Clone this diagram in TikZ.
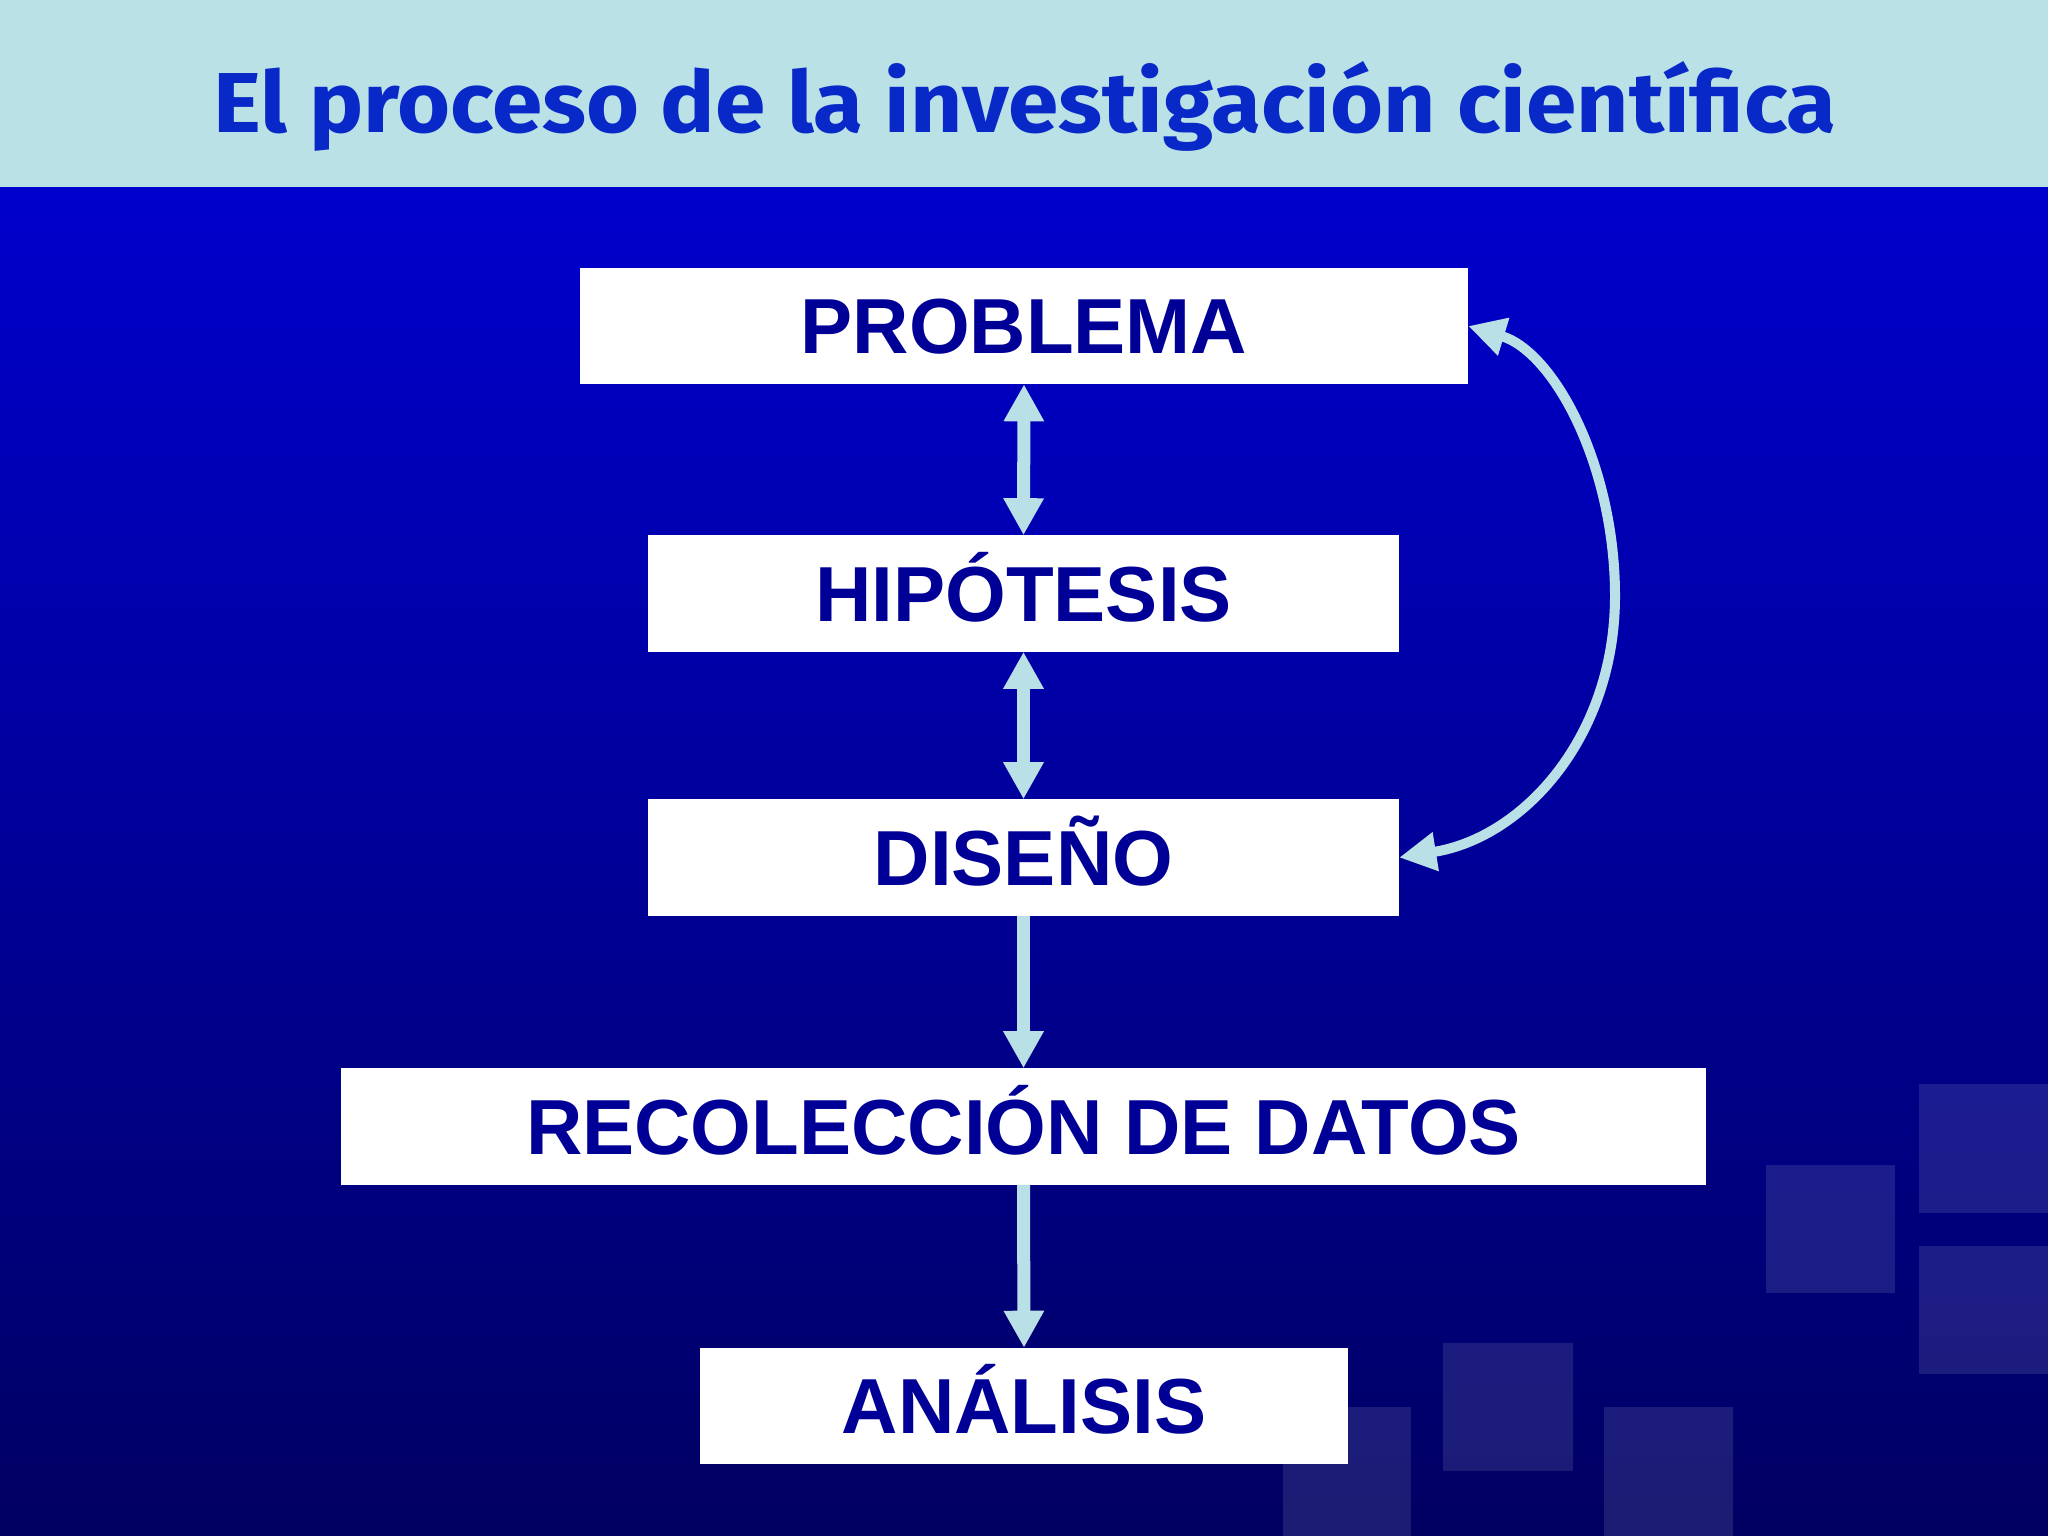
\documentclass[tikz,border=0pt]{standalone}
\usepackage{fontspec}
\setmainfont{Liberation Sans}
\newfontfamily\titlefont{Fira Sans}
\usetikzlibrary{arrows.meta}
\definecolor{band}{RGB}{185,225,230}
\definecolor{arrowc}{RGB}{185,224,230}
\definecolor{titleblue}{RGB}{8,40,200}
\definecolor{boxtext}{RGB}{0,0,150}
\definecolor{bgtop}{RGB}{0,0,205}
\definecolor{bgbot}{RGB}{0,0,98}
\tikzset{
  stepbox/.style={fill=white, draw=none, inner sep=0pt, outer sep=0pt,
    text=boxtext, font=\fontsize{22.2pt}{26pt}\selectfont\bfseries,
    text height=15.9pt, text depth=0pt, minimum height=1.165cm},
  blockarrow/.style={draw=arrowc, line width=0.13cm,
    >={Triangle[length=0.37cm,width=0.38cm]}},
  curvearrow/.style={draw=arrowc, line width=0.10cm,
    >={Triangle[length=0.37cm,width=0.37cm]}},
  deco/.style={fill=white, fill opacity=0.11}
}
\begin{document}
\begin{tikzpicture}[x=0.01cm, y=-0.01cm]
\useasboundingbox (0,0) rectangle (2048,1536);
% background
\fill[band] (0,0) rectangle (2048,187);
\shade[top color=bgtop, bottom color=bgbot] (0,187) rectangle (2048,1536);
% decorative squares
\fill[deco] (1919,1084) rectangle (2048,1213);
\fill[deco] (1919,1246) rectangle (2048,1374);
\fill[deco] (1766,1165) rectangle (1895,1293);
\fill[deco] (1443,1343) rectangle (1573,1471);
\fill[deco] (1604,1407) rectangle (1733,1536);
\fill[deco] (1283,1407) rectangle (1411,1536);
% title
\node[anchor=base west, inner sep=0pt, text=titleblue] (title) at (213,132)
  {\resizebox{16.22cm}{0.71cm}{\titlefont\bfseries El proceso de la investigación científica}};
% boxes
\node[stepbox, minimum width=8.88cm]  (prob) at (1024,326)    {PROBLEMA};
\node[stepbox, minimum width=7.51cm]  (hip)  at (1023.5,593.5) {HIPÓTESIS};
\node[stepbox, minimum width=7.51cm]  (dis)  at (1023.5,857.5) {DISEÑO};
\node[stepbox, minimum width=13.65cm] (rec)  at (1023.5,1126.5) {RECOLECCIÓN DE DATOS};
\node[stepbox, minimum width=6.48cm]  (ana)  at (1024,1406)   {ANÁLISIS};
% straight arrows
\draw[blockarrow, <->] (prob.south) -- (hip.north);
\draw[blockarrow, <->] (hip.south) -- (dis.north);
\draw[blockarrow, ->] (dis.south) -- (rec.north);
\draw[blockarrow, ->] (rec.south) -- (ana.north);
% curved arrow
\coordinate (bulge) at (1615,596);
\draw[curvearrow, <->] (prob.east) .. controls +(86,26) and +(0,-130) .. (bulge)
  .. controls +(0,140) and +(125,-20) .. (dis.east);
\end{tikzpicture}
\end{document}
